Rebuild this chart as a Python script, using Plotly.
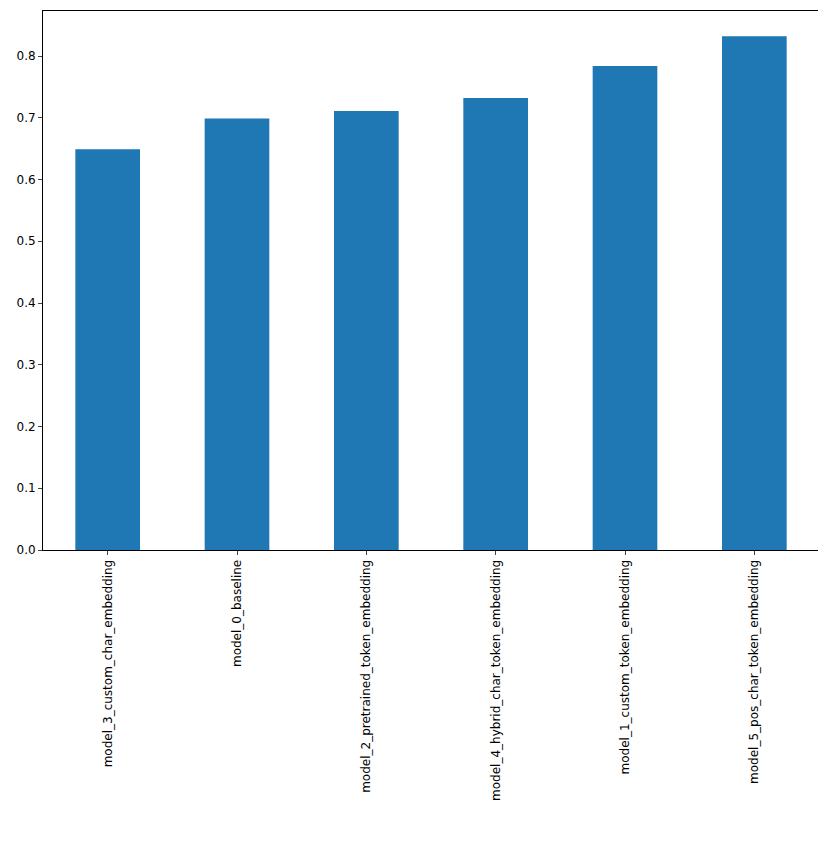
import plotly.graph_objects as go

models = [
    "model_3_custom_char_embedding",
    "model_0_baseline",
    "model_2_pretrained_token_embedding",
    "model_4_hybrid_char_token_embedding",
    "model_1_custom_token_embedding",
    "model_5_pos_char_token_embedding",
]
scores = [0.649, 0.699, 0.711, 0.732, 0.784, 0.832]
y_ticks = [0.0, 0.1, 0.2, 0.3, 0.4, 0.5, 0.6, 0.7, 0.8]

fig = go.Figure(go.Bar(x=models, y=scores, marker_color="#1f77b4",
                       marker_line_width=0, width=0.5))

fig.update_layout(
    width=826, height=848,
    margin=dict(l=35, r=15, t=3, b=306),
    plot_bgcolor="white", paper_bgcolor="white",
    font=dict(family="DejaVu Sans", size=12, color="black"),
    showlegend=False,
)
fig.update_xaxes(
    tickangle=-90, showline=True, linecolor="black", mirror=True,
    ticks="outside", ticklen=4, range=[-0.5, 5.5],
)
fig.update_yaxes(
    range=[0, 0.873], tickvals=y_ticks, ticktext=[f"{v:.1f}" for v in y_ticks],
    showline=True, linecolor="black", mirror=True, ticks="outside", ticklen=4,
    showgrid=False, zeroline=False,
)

fig.write_html("out.html")
